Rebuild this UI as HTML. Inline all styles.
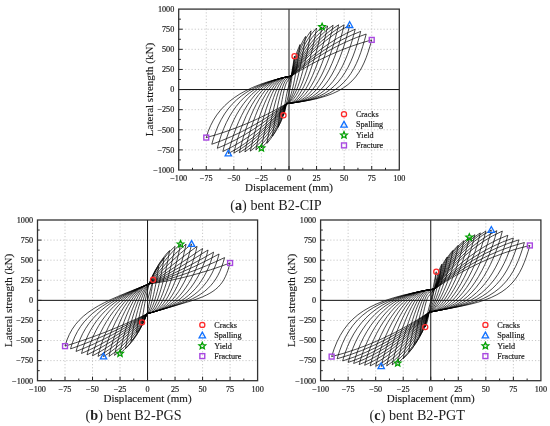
<!DOCTYPE html>
<html lang="en">
<head>
<meta charset="utf-8">
<title>Hysteresis curves</title>
<style>
html,body{margin:0;padding:0;background:#fff;}
body{width:550px;height:426px;overflow:hidden;}
svg{display:block;font-family:"Liberation Serif", "DejaVu Serif", serif;}
</style>
</head>
<body>
<svg width="550" height="426" viewBox="0 0 550 426">
<rect width="550" height="426" fill="#fff"/>
<g>
<path d="M206.27 9.1V170M178.7 29.21H399.3M233.85 9.1V170M178.7 49.33H399.3M261.43 9.1V170M178.7 69.44H399.3M316.57 9.1V170M178.7 109.66H399.3M344.15 9.1V170M178.7 129.78H399.3M371.73 9.1V170M178.7 149.89H399.3" stroke="#bdbdbd" stroke-width="0.8" stroke-dasharray="1.2 2" fill="none"/>
<path d="M289 89.55L294.51 56.16C293.36 68.79 290.72 85.94 289.92 89.22L286.35 103.79C285.71 107.65 285.1 111.73 283.49 115.29C284.39 105.43 287.01 92.1 287.71 89.56L291.43 76.03C293.36 65.42 295.24 54.16 300.03 44.5C297.4 66.33 292 96.32 288.32 101.18L286.35 103.79C284.45 111.82 282.45 120.43 277.97 127.36C280.08 109.84 284.03 85.7 287.01 81.81L291.43 76.03C294.63 62.54 298 48.09 305.55 36.45C301.88 62.33 294.22 98.58 287.73 102.87L286.35 103.79C283.15 114.98 279.61 127.03 272.45 136.21C275.6 114.03 281.48 82.83 286.99 79.07L291.43 76.03C295.95 60.41 300.98 43.59 311.06 30.82C306.51 59.39 297.49 100.15 286.35 103.79C281.83 117.64 276.63 132.57 266.94 143.45C271.04 117.68 278.76 80.63 286.8 77.71L291.43 76.03C297.32 59.14 304.24 40.96 316.57 28.01C311.28 58.46 300.03 101.79 286.35 103.79C280.46 119.48 273.42 136.33 261.43 148.04C266.34 119.81 276.19 78.92 286.57 76.96L291.43 76.03C298.77 58.36 307.74 39.47 322.09 26.8C316.26 57.95 302.29 101.47 289.09 103.39L286.35 103.79C279.01 120.47 269.92 138.22 255.91 149.89C261.4 120.56 273.17 79.5 285.51 77.16L291.43 76.03C300.3 57.69 311.44 38.4 327.61 25.99C321.25 57.93 306.05 100.92 290.44 103.19L286.35 103.79C277.44 121.25 266.18 139.46 250.39 151.09C256.44 120.75 270.05 80.09 284.78 77.29L291.43 76.03C301.89 57.03 315.2 37.43 333.12 25.19C326.24 57.95 310.38 100.28 291.82 102.99L286.35 103.79C275.79 121.9 262.36 140.34 244.88 151.9C251.45 120.6 266.49 80.76 284.1 77.42L291.43 76.03C303.56 56.5 319.03 36.81 338.63 24.79C331.28 58.18 315.58 99.53 293.65 102.73L286.35 103.79C274.09 122.51 258.53 141.13 239.36 152.7C246.48 120.36 262.38 81.54 283.46 77.54L291.43 76.03C305.29 56.12 322.93 36.55 344.15 24.79C336.34 58.8 321.05 98.73 295.2 102.5L286.35 103.79C272.32 122.98 254.64 141.58 233.85 153.11C241.53 119.65 258.15 82.35 283.39 77.56L291.43 76.03C307.09 55.9 326.86 36.64 349.67 25.19C341.45 59.64 327.38 97.81 297.18 102.21L286.35 103.79C270.51 123.4 250.76 141.98 228.33 153.51C236.61 118.81 253.28 83.27 283.48 77.54L291.43 76.03C309.19 56.9 331.16 39.44 355.18 29.21C346.77 63.27 332.73 97.02 298.43 102.03L286.35 103.79C268.51 123 246.66 140.58 222.82 151.5C231.62 115.88 249.02 84.08 284.63 77.32L291.43 76.03C311.22 57.39 335.25 40.98 360.69 31.38C351.97 65.6 339.46 96.04 300.07 101.79L286.35 103.79C266.37 122.1 242.48 138.22 217.31 148.28C226.71 111.41 245.27 84.79 287.42 76.79L291.43 76.03C313.34 58.12 339.34 42.94 366.21 34.04C357.2 68.33 346.73 94.98 301.81 101.54L286.35 103.79C264.13 120.81 238.28 135.2 211.79 144.26C221.49 107.33 241.71 85.46 291.43 76.03C315.76 60.16 343.66 47.43 371.73 39.91C362.42 74.37 352.07 94.2 300.95 101.66L286.35 103.79C261.66 118.38 233.96 130.1 206.27 137.58C215.34 104.01 243.76 85.07 291.43 76.03" stroke="#000" stroke-width="0.72" fill="none" stroke-linejoin="round"/>
<path d="M289 9.1V170M178.7 89.55H399.3" stroke="#111" stroke-width="1" fill="none"/>
<path d="M178.7 19.16h2.2M192.49 170v-2.2M178.7 29.21h4M206.27 170v-4M178.7 39.27h2.2M220.06 170v-2.2M178.7 49.33h4M233.85 170v-4M178.7 59.38h2.2M247.64 170v-2.2M178.7 69.44h4M261.43 170v-4M178.7 79.49h2.2M275.21 170v-2.2M178.7 89.55h4M289 170v-4M178.7 99.61h2.2M302.79 170v-2.2M178.7 109.66h4M316.57 170v-4M178.7 119.72h2.2M330.36 170v-2.2M178.7 129.78h4M344.15 170v-4M178.7 139.83h2.2M357.94 170v-2.2M178.7 149.89h4M371.73 170v-4M178.7 159.94h2.2M385.51 170v-2.2" stroke="#222" stroke-width="1" fill="none"/>
<rect x="178.7" y="9.1" width="220.6" height="160.9" fill="none" stroke="#333" stroke-width="1.3"/>
<g font-size="8.2" fill="#1a1a1a" stroke="#1a1a1a" stroke-width="0.18"><text x="174.3" y="11.9" text-anchor="end">1000</text><text x="174.3" y="32.01" text-anchor="end">750</text><text x="174.3" y="52.12" text-anchor="end">500</text><text x="174.3" y="72.24" text-anchor="end">250</text><text x="174.3" y="92.35" text-anchor="end">0</text><text x="174.3" y="112.46" text-anchor="end">−250</text><text x="174.3" y="132.58" text-anchor="end">−500</text><text x="174.3" y="152.69" text-anchor="end">−750</text><text x="174.3" y="172.8" text-anchor="end">−1000</text><text x="178.7" y="181.2" text-anchor="middle">−100</text><text x="206.27" y="181.2" text-anchor="middle">−75</text><text x="233.85" y="181.2" text-anchor="middle">−50</text><text x="261.43" y="181.2" text-anchor="middle">−25</text><text x="289" y="181.2" text-anchor="middle">0</text><text x="316.57" y="181.2" text-anchor="middle">25</text><text x="344.15" y="181.2" text-anchor="middle">50</text><text x="371.73" y="181.2" text-anchor="middle">75</text><text x="399.3" y="181.2" text-anchor="middle">100</text></g>
<text x="289" y="191.2" text-anchor="middle" font-size="11.05" fill="#1a1a1a" stroke="#1a1a1a" stroke-width="0.15">Displacement (mm)</text>
<text transform="translate(152.8 89.55) rotate(-90)" text-anchor="middle" font-size="11.05" fill="#1a1a1a" stroke="#1a1a1a" stroke-width="0.15">Lateral strength (kN)</text>
<circle cx="294.51" cy="56.16" r="2.55" fill="none" stroke="#ff2a2a" stroke-width="1.3"/>
<circle cx="283.49" cy="115.29" r="2.55" fill="none" stroke="#ff2a2a" stroke-width="1.3"/>
<path d="M349.67 21.71L352.87 27.51L346.47 27.51Z" fill="none" stroke="#1070ff" stroke-width="1.3" stroke-linejoin="miter"/>
<path d="M228.33 150.03L231.53 155.83L225.13 155.83Z" fill="none" stroke="#1070ff" stroke-width="1.3" stroke-linejoin="miter"/>
<path d="M322.09 23.3L323.03 25.5L325.42 25.72L323.61 27.29L324.15 29.63L322.09 28.4L320.03 29.63L320.57 27.29L318.76 25.72L321.15 25.5Z" fill="none" stroke="#00a000" stroke-width="1.3" stroke-linejoin="miter"/>
<path d="M261.43 144.54L262.37 146.74L264.75 146.96L262.95 148.53L263.48 150.87L261.43 149.64L259.37 150.87L259.9 148.53L258.1 146.96L260.48 146.74Z" fill="none" stroke="#00a000" stroke-width="1.3" stroke-linejoin="miter"/>
<rect x="369.28" y="37.46" width="4.9" height="4.9" fill="none" stroke="#a848e0" stroke-width="1.4"/>
<rect x="203.82" y="135.13" width="4.9" height="4.9" fill="none" stroke="#a848e0" stroke-width="1.4"/>
<circle cx="344" cy="114.2" r="2.55" fill="none" stroke="#ff2a2a" stroke-width="1.3"/>
<path d="M344 121.42L347.2 127.22L340.8 127.22Z" fill="none" stroke="#1070ff" stroke-width="1.3" stroke-linejoin="miter"/>
<path d="M344 131.7L344.94 133.91L347.33 134.12L345.52 135.69L346.06 138.03L344 136.8L341.94 138.03L342.48 135.69L340.67 134.12L343.06 133.91Z" fill="none" stroke="#00a000" stroke-width="1.3" stroke-linejoin="miter"/>
<rect x="341.55" y="142.95" width="4.9" height="4.9" fill="none" stroke="#a848e0" stroke-width="1.4"/>
<g font-size="8.2" fill="#1a1a1a" stroke="#1a1a1a" stroke-width="0.18"><text x="355.9" y="117">Cracks</text><text x="355.9" y="127.4">Spalling</text><text x="355.9" y="137.8">Yield</text><text x="355.9" y="148.2">Fracture</text></g>
<text x="276" y="210.1" text-anchor="middle" font-size="14.2" fill="#222" class="cap">(<tspan font-weight="bold">a</tspan>) bent B2-CIP</text>
</g>
<g>
<path d="M65.01 220V380.7M37.5 240.09H257.6M92.53 220V380.7M37.5 260.18H257.6M120.04 220V380.7M37.5 280.26H257.6M175.06 220V380.7M37.5 320.44H257.6M202.58 220V380.7M37.5 340.52H257.6M230.09 220V380.7M37.5 360.61H257.6" stroke="#bdbdbd" stroke-width="0.8" stroke-dasharray="1.2 2" fill="none"/>
<path d="M147.55 300.35L153.05 279.78C152.12 290.05 147.8 310.67 147 313.85C145.82 316.88 144.41 320.13 142.05 322.37C143.15 310.32 146.56 294.09 147.37 290.97L149.2 283.88C151.47 277.8 154.19 271.4 158.56 266.6C156.42 284.32 150.88 308.32 148.04 312.37L147 313.85C144.53 320.46 141.58 327.55 136.55 332.49C138.75 314.16 145.56 289.27 149.2 283.88C152.82 274.65 157.21 264.93 164.06 257.76C161.03 279.11 153.9 308.48 148.84 312.42L147 313.85C143.21 323.63 138.66 334.12 131.04 341.33C134.2 319.07 142.82 289.37 149.2 283.88C154.2 272 160.33 259.53 169.56 250.53C165.66 275.04 156.93 309.3 149.54 312.69L147 313.85C141.87 326.3 135.6 339.61 125.54 348.56C129.61 322.95 140 288.96 149.2 283.88C155.66 270.3 163.68 256.18 175.06 246.35C170.44 272.94 159.83 310.1 150.28 312.89L147 313.85C140.47 328.25 132.34 343.52 120.04 353.46C124.88 325.62 138.06 288.27 147.76 284.45L149.2 283.88C157.61 269.43 167.91 255.03 180.56 244.11C175.39 271.76 163.35 309.07 151.98 312.39L147 313.85C138.85 329.22 128.57 345.11 114.54 355.39C119.97 326.34 135.45 289.3 147.02 284.74L149.2 283.88C159.81 269.46 172.27 255.51 186.07 244.11C180.49 272.15 166.81 308.06 153.5 311.95L147 313.85C137.14 329.89 124.69 345.98 109.03 356.43C115.01 326.36 132.66 290.4 146.49 284.95L149.2 283.88C162.14 269.73 176.59 256.08 191.57 244.11C185.59 272.62 170.69 306.93 155.02 311.51L147 313.85C135.31 330.23 120.73 346.15 103.53 356.6C110.02 325.64 129.64 291.59 146.12 285.09L149.2 283.88C164.58 270.98 180.89 258.24 197.07 246.35C190.84 274.71 174.53 305.81 156.46 311.08L147 313.85C133.41 330.4 116.74 346.02 98.03 356.43C105.04 324.55 126.29 292.91 145.98 285.15L149.2 283.88C166.95 272.42 185.08 260.37 202.58 248.52C196.08 276.84 178.88 304.54 158 310.64L147 313.85C131.42 330.34 112.74 345.48 92.53 355.79C100.06 322.93 122.66 294.34 146.14 285.08L149.2 283.88C169.2 273.74 189.18 262.03 208.08 249.97C201.27 278.53 183.93 303.06 159.64 310.16L147 313.85C129.38 330.1 108.73 344.67 87.02 354.83C95.31 320.06 117.97 296.19 149.2 283.88C171.29 275.33 193.17 264.15 213.58 252.14C206.56 280.6 189.78 301.36 161.98 309.47L147 313.85C127.29 329.64 104.74 343.52 81.52 353.46C90.3 317.87 114.9 297.4 148.59 284.12L149.2 283.88C173.26 276.78 197.08 266.03 219.08 253.99C211.89 282.23 196.71 299.33 165.16 308.54L147 313.85C125.17 328.88 100.74 341.89 76.02 351.45C84.91 316.53 109.89 299.38 149.2 283.88C175 278.53 200.79 268.92 224.59 257.6C217.51 284.56 204.65 297.01 170.39 307.02L147 313.85C123.03 327.85 96.76 339.84 70.52 348.88C79.59 314.29 106.15 300.85 149.2 283.88C176.54 280.35 204.27 272.66 230.09 262.99C224.39 284.09 218.13 293.08 187.75 301.95L147 313.85C120.91 326.7 92.82 337.66 65.01 346.15C74.26 311.88 102.34 302.35 149.2 283.88" stroke="#000" stroke-width="0.72" fill="none" stroke-linejoin="round"/>
<path d="M147.55 220V380.7M37.5 300.35H257.6" stroke="#111" stroke-width="1" fill="none"/>
<path d="M37.5 230.04h2.2M51.26 380.7v-2.2M37.5 240.09h4M65.01 380.7v-4M37.5 250.13h2.2M78.77 380.7v-2.2M37.5 260.18h4M92.53 380.7v-4M37.5 270.22h2.2M106.28 380.7v-2.2M37.5 280.26h4M120.04 380.7v-4M37.5 290.31h2.2M133.79 380.7v-2.2M37.5 300.35h4M147.55 380.7v-4M37.5 310.39h2.2M161.31 380.7v-2.2M37.5 320.44h4M175.06 380.7v-4M37.5 330.48h2.2M188.82 380.7v-2.2M37.5 340.52h4M202.58 380.7v-4M37.5 350.57h2.2M216.33 380.7v-2.2M37.5 360.61h4M230.09 380.7v-4M37.5 370.66h2.2M243.84 380.7v-2.2" stroke="#222" stroke-width="1" fill="none"/>
<rect x="37.5" y="220" width="220.1" height="160.7" fill="none" stroke="#333" stroke-width="1.3"/>
<g font-size="8.2" fill="#1a1a1a" stroke="#1a1a1a" stroke-width="0.18"><text x="33.1" y="222.8" text-anchor="end">1000</text><text x="33.1" y="242.89" text-anchor="end">750</text><text x="33.1" y="262.98" text-anchor="end">500</text><text x="33.1" y="283.06" text-anchor="end">250</text><text x="33.1" y="303.15" text-anchor="end">0</text><text x="33.1" y="323.24" text-anchor="end">−250</text><text x="33.1" y="343.32" text-anchor="end">−500</text><text x="33.1" y="363.41" text-anchor="end">−750</text><text x="33.1" y="383.5" text-anchor="end">−1000</text><text x="37.5" y="391.9" text-anchor="middle">−100</text><text x="65.01" y="391.9" text-anchor="middle">−75</text><text x="92.53" y="391.9" text-anchor="middle">−50</text><text x="120.04" y="391.9" text-anchor="middle">−25</text><text x="147.55" y="391.9" text-anchor="middle">0</text><text x="175.06" y="391.9" text-anchor="middle">25</text><text x="202.58" y="391.9" text-anchor="middle">50</text><text x="230.09" y="391.9" text-anchor="middle">75</text><text x="257.6" y="391.9" text-anchor="middle">100</text></g>
<text x="147.55" y="401.9" text-anchor="middle" font-size="11.05" fill="#1a1a1a" stroke="#1a1a1a" stroke-width="0.15">Displacement (mm)</text>
<text transform="translate(11.6 300.35) rotate(-90)" text-anchor="middle" font-size="11.05" fill="#1a1a1a" stroke="#1a1a1a" stroke-width="0.15">Lateral strength (kN)</text>
<circle cx="153.05" cy="279.78" r="2.55" fill="none" stroke="#ff2a2a" stroke-width="1.3"/>
<circle cx="142.05" cy="322.37" r="2.55" fill="none" stroke="#ff2a2a" stroke-width="1.3"/>
<path d="M191.57 240.63L194.77 246.43L188.37 246.43Z" fill="none" stroke="#1070ff" stroke-width="1.3" stroke-linejoin="miter"/>
<path d="M103.53 353.12L106.73 358.92L100.33 358.92Z" fill="none" stroke="#1070ff" stroke-width="1.3" stroke-linejoin="miter"/>
<path d="M180.56 240.61L181.51 242.81L183.89 243.02L182.09 244.6L182.62 246.94L180.56 245.71L178.51 246.94L179.04 244.6L177.24 243.02L179.62 242.81Z" fill="none" stroke="#00a000" stroke-width="1.3" stroke-linejoin="miter"/>
<path d="M120.04 349.96L120.98 352.17L123.37 352.38L121.56 353.96L122.09 356.29L120.04 355.06L117.98 356.29L118.52 353.96L116.71 352.38L119.1 352.17Z" fill="none" stroke="#00a000" stroke-width="1.3" stroke-linejoin="miter"/>
<rect x="227.64" y="260.54" width="4.9" height="4.9" fill="none" stroke="#a848e0" stroke-width="1.4"/>
<rect x="62.56" y="343.7" width="4.9" height="4.9" fill="none" stroke="#a848e0" stroke-width="1.4"/>
<circle cx="202.3" cy="324.9" r="2.55" fill="none" stroke="#ff2a2a" stroke-width="1.3"/>
<path d="M202.3 332.12L205.5 337.92L199.1 337.92Z" fill="none" stroke="#1070ff" stroke-width="1.3" stroke-linejoin="miter"/>
<path d="M202.3 342.4L203.24 344.61L205.63 344.82L203.82 346.39L204.36 348.73L202.3 347.5L200.24 348.73L200.78 346.39L198.97 344.82L201.36 344.61Z" fill="none" stroke="#00a000" stroke-width="1.3" stroke-linejoin="miter"/>
<rect x="199.85" y="353.65" width="4.9" height="4.9" fill="none" stroke="#a848e0" stroke-width="1.4"/>
<g font-size="8.2" fill="#1a1a1a" stroke="#1a1a1a" stroke-width="0.18"><text x="214.2" y="327.7">Cracks</text><text x="214.2" y="338.1">Spalling</text><text x="214.2" y="348.5">Yield</text><text x="214.2" y="358.9">Fracture</text></g>
<text x="133.6" y="420" text-anchor="middle" font-size="14.2" fill="#222" class="cap">(<tspan font-weight="bold">b</tspan>) bent B2-PGS</text>
</g>
<g>
<path d="M348.14 220V380.7M320.6 240.09H540.9M375.68 220V380.7M320.6 260.18H540.9M403.21 220V380.7M320.6 280.26H540.9M458.29 220V380.7M320.6 320.44H540.9M485.82 220V380.7M320.6 340.52H540.9M513.36 220V380.7M320.6 360.61H540.9" stroke="#bdbdbd" stroke-width="0.8" stroke-dasharray="1.2 2" fill="none"/>
<path d="M430.75 300.35L436.26 271.75C435.24 282.9 432.65 298.01 431.93 300.89L429.1 312.24C428.26 317.24 427.56 322.6 425.24 327.11C426.6 312.27 433.15 293.82 434.72 288.94C436.25 280.59 437.59 271.59 441.76 264.19C440.03 278.61 431.93 308.55 429.1 312.24C427.02 320.34 424.91 329.22 419.74 335.78C421.56 320.61 425.71 299.71 428.38 296.51L434.72 288.94C437.5 277.95 440.31 265.91 447.27 256.96C444.93 273.47 433.64 309.17 429.1 312.24C425.76 323.49 422.13 335.87 414.23 344.54C417.11 324.24 423.95 295.76 428.91 292.62L434.72 288.94C438.78 275.54 443.23 260.78 452.78 250.53C449.64 270.28 435.74 309.85 429.1 312.24C424.47 326.29 419.24 341.77 408.72 352.18C412.58 327.93 421.84 293.18 428.98 290.83L434.72 288.94C440.1 273.46 446.33 256.43 458.29 245.23C454.23 268.57 438.13 310.53 429.1 312.24C423.16 328.78 416.22 346.96 403.21 358.76C408 331.26 419.56 291.37 428.76 289.9L434.72 288.94C441.45 271.63 449.55 252.66 463.79 240.73C458.54 268.82 441.4 309.91 429.1 312.24C421.8 330.57 412.97 350.61 397.71 363.1C403.22 333.64 416.64 291.84 427.55 290.09L434.72 288.94C442.85 270.1 452.92 249.63 469.3 237.28C463.09 268.51 443.96 309.42 431.09 311.86L429.1 312.24C420.34 331.56 409.37 352.41 392.2 364.87C398.29 334.27 413.81 292.29 426.49 290.26L434.72 288.94C444.3 268.85 456.43 247.26 474.81 234.7C467.95 267.37 447.54 308.74 432.39 311.62L429.1 312.24C418.8 332.33 405.63 353.63 386.69 365.92C393.31 334.36 410.71 292.79 425.42 290.43L434.72 288.94C445.8 267.82 460.05 245.44 480.32 232.86C472.87 266.68 451.66 307.96 433.94 311.32L429.1 312.24C417.2 332.92 401.79 354.37 381.18 366.4C388.32 333.97 407.52 293.3 424.6 290.56L434.72 288.94C447.33 266.81 463.71 243.73 485.82 231.09C477.81 266.01 456.44 307.06 435.73 310.98L429.1 312.24C415.52 333.35 397.88 354.69 375.68 366.4C383.3 333.17 404.02 293.87 423.82 290.69L434.72 288.94C448.92 266.03 467.47 242.58 491.33 230.04C482.79 265.87 461.53 306.09 437.5 310.65L429.1 312.24C413.76 333.61 393.91 354.59 370.17 365.92C378.29 331.88 400.45 294.44 423.39 290.76L434.72 288.94C450.65 265.79 471.44 242.71 496.84 230.69C487.9 266.88 466.88 305.08 439.46 310.28L429.1 312.24C411.94 333.78 389.92 354.31 364.66 365.27C373.28 330.36 396.48 295.08 423.05 290.81L434.72 288.94C452.4 265.49 475.39 242.74 502.35 231.09C493.01 267.71 472.89 303.94 441.62 309.87L429.1 312.24C410.07 333.91 385.95 353.97 359.15 364.63C368.33 328.65 392.29 295.75 423.15 290.8L434.72 288.94C454.48 266.46 479.78 245.67 507.85 235.27C498.35 271.44 477.98 302.97 443.27 309.55L429.1 312.24C408.13 333.84 381.94 353.22 353.65 363.51C363.4 326.35 387.95 296.45 423.77 290.7L434.72 288.94C456.54 267.03 483.97 247.61 513.36 238C503.65 273.98 484.45 301.74 445.78 309.08L429.1 312.24C406.17 333.75 377.96 352.5 348.14 362.46C358.56 323.84 383.26 297.2 424.98 290.5L434.72 288.94C458.56 267.38 488.03 248.93 518.87 239.85C508.96 275.62 492.22 300.27 449.3 308.41L429.1 312.24C404.14 333.44 373.95 351.37 342.63 360.93C353.82 320.53 378.53 297.96 427.26 290.14L434.72 288.94C460.7 268.08 492.14 250.93 524.38 242.5C514.43 277.54 500.75 298.65 453.97 307.53L429.1 312.24C402.03 332.84 369.91 349.71 337.12 358.76C349.39 315.56 373.77 298.72 434.72 288.94C462.9 268.99 496.24 253.23 529.88 245.47C520.14 279.03 510.54 296.8 460.85 306.22L429.1 312.24C399.91 332.16 365.9 348.02 331.62 356.6C343.94 314.16 370.46 299.25 434.72 288.94" stroke="#000" stroke-width="0.72" fill="none" stroke-linejoin="round"/>
<path d="M430.75 220V380.7M320.6 300.35H540.9" stroke="#111" stroke-width="1" fill="none"/>
<path d="M320.6 230.04h2.2M334.37 380.7v-2.2M320.6 240.09h4M348.14 380.7v-4M320.6 250.13h2.2M361.91 380.7v-2.2M320.6 260.18h4M375.68 380.7v-4M320.6 270.22h2.2M389.44 380.7v-2.2M320.6 280.26h4M403.21 380.7v-4M320.6 290.31h2.2M416.98 380.7v-2.2M320.6 300.35h4M430.75 380.7v-4M320.6 310.39h2.2M444.52 380.7v-2.2M320.6 320.44h4M458.29 380.7v-4M320.6 330.48h2.2M472.06 380.7v-2.2M320.6 340.52h4M485.82 380.7v-4M320.6 350.57h2.2M499.59 380.7v-2.2M320.6 360.61h4M513.36 380.7v-4M320.6 370.66h2.2M527.13 380.7v-2.2" stroke="#222" stroke-width="1" fill="none"/>
<rect x="320.6" y="220" width="220.3" height="160.7" fill="none" stroke="#333" stroke-width="1.3"/>
<g font-size="8.2" fill="#1a1a1a" stroke="#1a1a1a" stroke-width="0.18"><text x="316.2" y="222.8" text-anchor="end">1000</text><text x="316.2" y="242.89" text-anchor="end">750</text><text x="316.2" y="262.98" text-anchor="end">500</text><text x="316.2" y="283.06" text-anchor="end">250</text><text x="316.2" y="303.15" text-anchor="end">0</text><text x="316.2" y="323.24" text-anchor="end">−250</text><text x="316.2" y="343.32" text-anchor="end">−500</text><text x="316.2" y="363.41" text-anchor="end">−750</text><text x="316.2" y="383.5" text-anchor="end">−1000</text><text x="320.6" y="391.9" text-anchor="middle">−100</text><text x="348.14" y="391.9" text-anchor="middle">−75</text><text x="375.68" y="391.9" text-anchor="middle">−50</text><text x="403.21" y="391.9" text-anchor="middle">−25</text><text x="430.75" y="391.9" text-anchor="middle">0</text><text x="458.29" y="391.9" text-anchor="middle">25</text><text x="485.82" y="391.9" text-anchor="middle">50</text><text x="513.36" y="391.9" text-anchor="middle">75</text><text x="540.9" y="391.9" text-anchor="middle">100</text></g>
<text x="430.75" y="401.9" text-anchor="middle" font-size="11.05" fill="#1a1a1a" stroke="#1a1a1a" stroke-width="0.15">Displacement (mm)</text>
<text transform="translate(294.7 300.35) rotate(-90)" text-anchor="middle" font-size="11.05" fill="#1a1a1a" stroke="#1a1a1a" stroke-width="0.15">Lateral strength (kN)</text>
<circle cx="436.26" cy="271.75" r="2.55" fill="none" stroke="#ff2a2a" stroke-width="1.3"/>
<circle cx="425.24" cy="327.11" r="2.55" fill="none" stroke="#ff2a2a" stroke-width="1.3"/>
<path d="M491.33 226.56L494.53 232.36L488.13 232.36Z" fill="none" stroke="#1070ff" stroke-width="1.3" stroke-linejoin="miter"/>
<path d="M381.18 362.92L384.38 368.72L377.98 368.72Z" fill="none" stroke="#1070ff" stroke-width="1.3" stroke-linejoin="miter"/>
<path d="M469.3 233.78L470.24 235.98L472.63 236.19L470.82 237.77L471.36 240.11L469.3 238.88L467.25 240.11L467.78 237.77L465.97 236.19L468.36 235.98Z" fill="none" stroke="#00a000" stroke-width="1.3" stroke-linejoin="miter"/>
<path d="M397.71 359.6L398.65 361.81L401.03 362.02L399.23 363.6L399.76 365.93L397.71 364.7L395.65 365.93L396.18 363.6L394.38 362.02L396.76 361.81Z" fill="none" stroke="#00a000" stroke-width="1.3" stroke-linejoin="miter"/>
<rect x="527.43" y="243.02" width="4.9" height="4.9" fill="none" stroke="#a848e0" stroke-width="1.4"/>
<rect x="329.17" y="354.15" width="4.9" height="4.9" fill="none" stroke="#a848e0" stroke-width="1.4"/>
<circle cx="485.4" cy="324.9" r="2.55" fill="none" stroke="#ff2a2a" stroke-width="1.3"/>
<path d="M485.4 332.12L488.6 337.92L482.2 337.92Z" fill="none" stroke="#1070ff" stroke-width="1.3" stroke-linejoin="miter"/>
<path d="M485.4 342.4L486.34 344.61L488.73 344.82L486.92 346.39L487.46 348.73L485.4 347.5L483.34 348.73L483.88 346.39L482.07 344.82L484.46 344.61Z" fill="none" stroke="#00a000" stroke-width="1.3" stroke-linejoin="miter"/>
<rect x="482.95" y="353.65" width="4.9" height="4.9" fill="none" stroke="#a848e0" stroke-width="1.4"/>
<g font-size="8.2" fill="#1a1a1a" stroke="#1a1a1a" stroke-width="0.18"><text x="497.3" y="327.7">Cracks</text><text x="497.3" y="338.1">Spalling</text><text x="497.3" y="348.5">Yield</text><text x="497.3" y="358.9">Fracture</text></g>
<text x="417.3" y="420" text-anchor="middle" font-size="14.2" fill="#222" class="cap">(<tspan font-weight="bold">c</tspan>) bent B2-PGT</text>
</g>
</svg>
</body>
</html>
